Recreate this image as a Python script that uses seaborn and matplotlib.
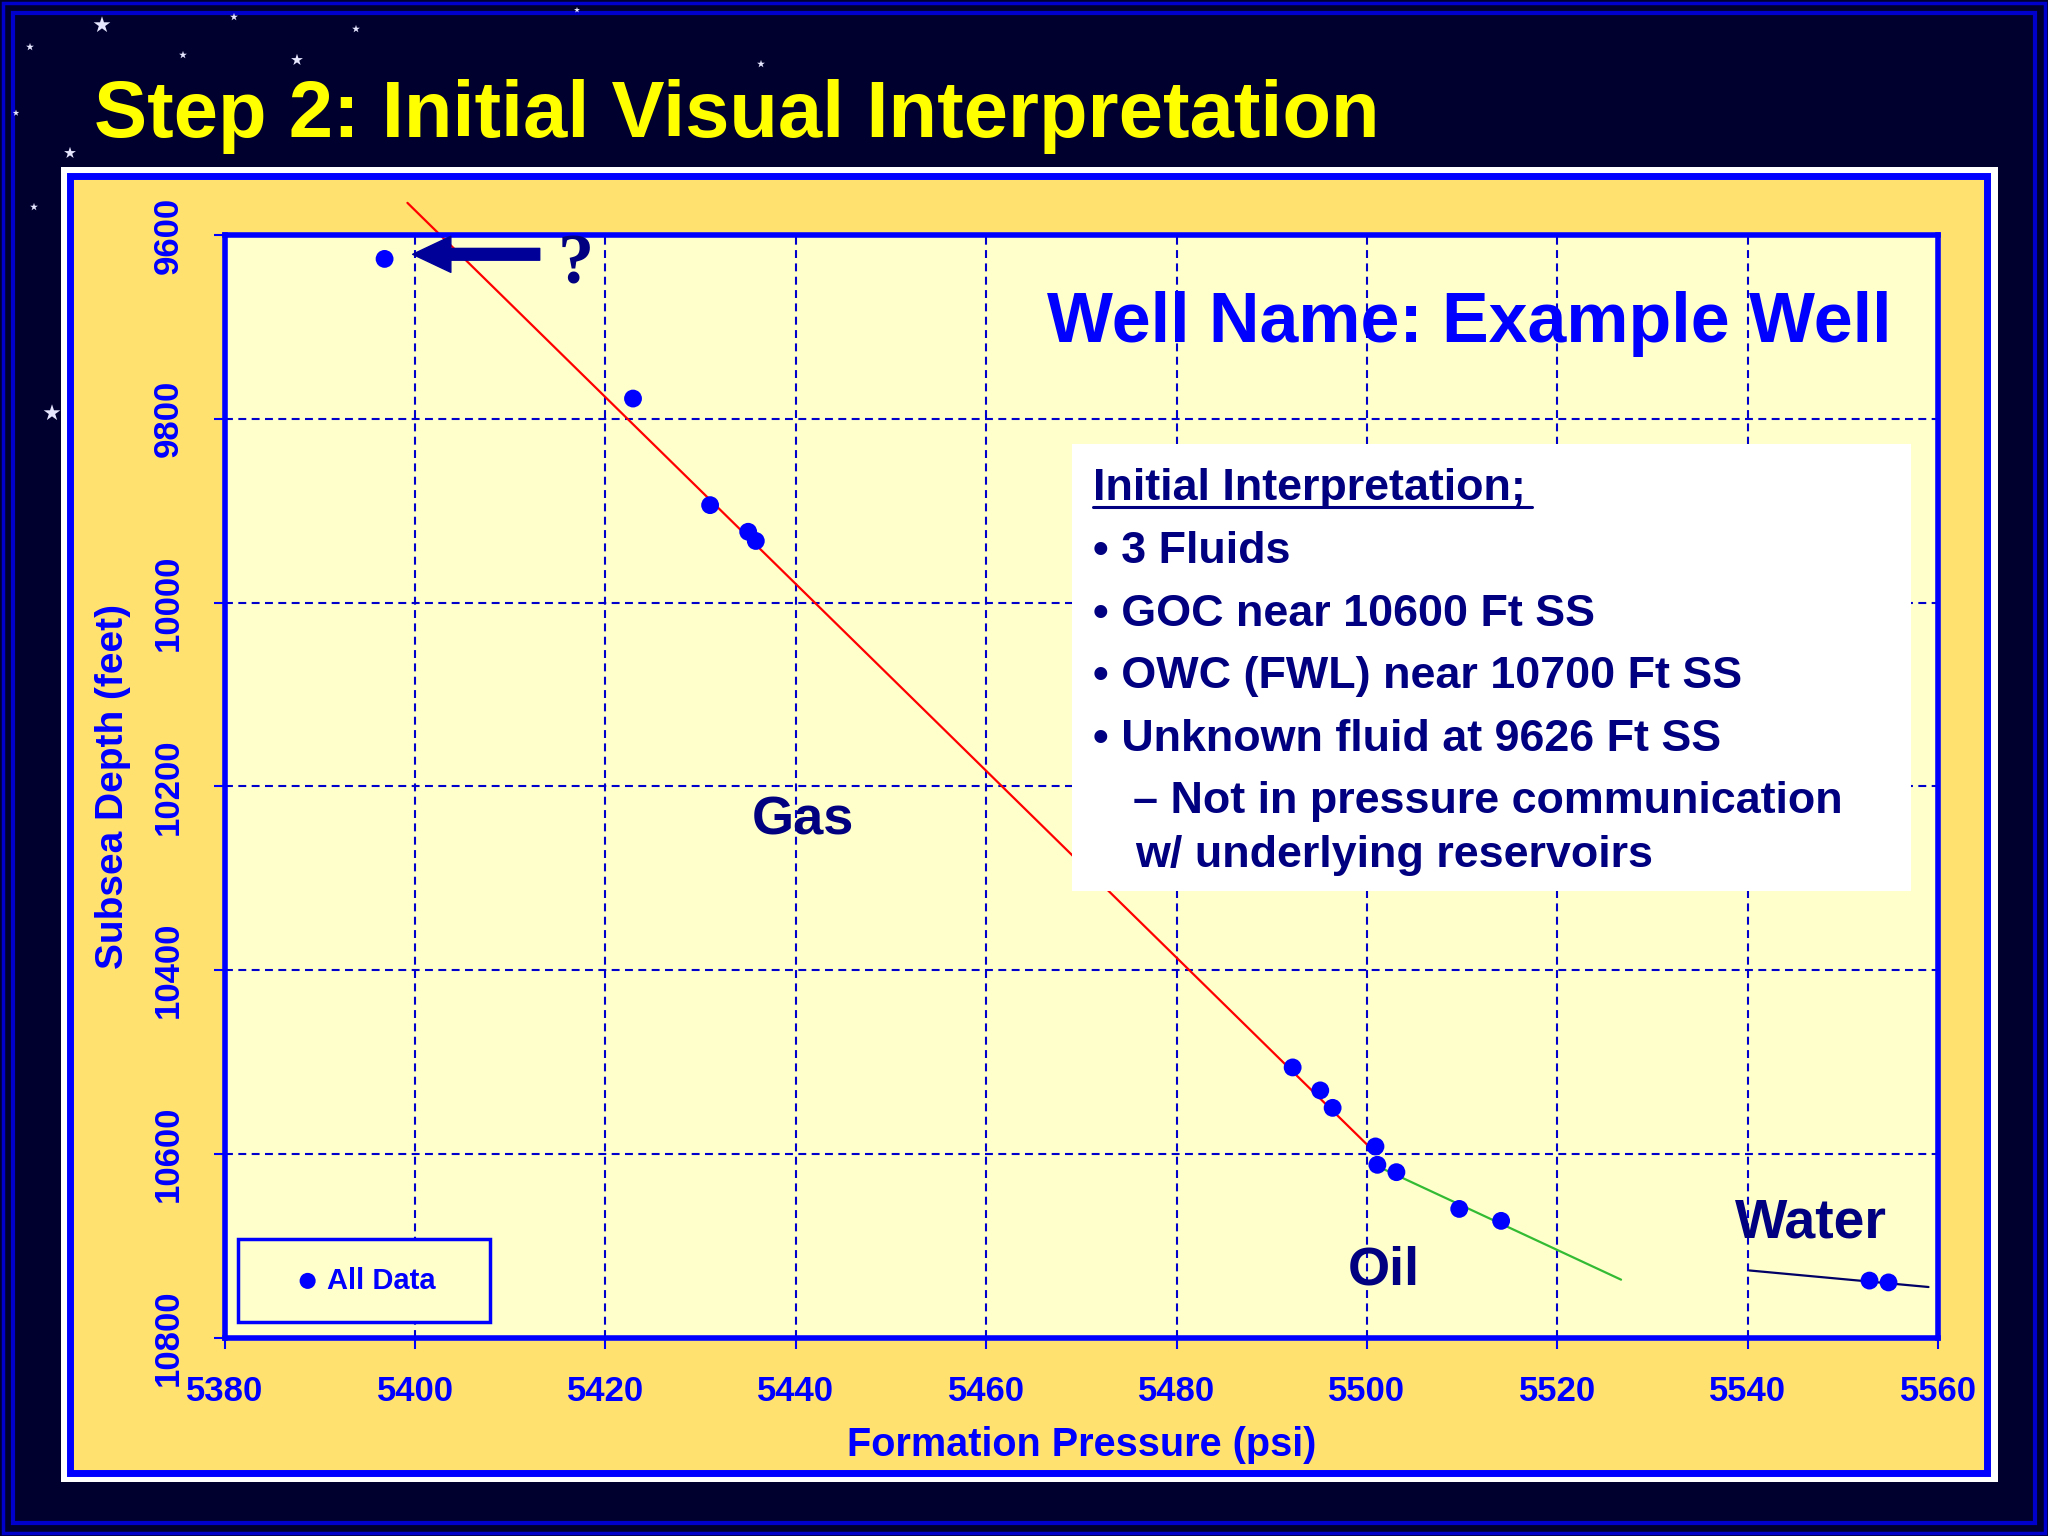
import numpy as np
import pandas as pd
import seaborn as sns
import matplotlib.pyplot as plt
from matplotlib.patches import Rectangle

# RFT pressure points
pressure = [5396.8, 5422.9, 5431.0, 5435.0, 5435.8, 5492.2, 5495.1, 5496.4,
            5500.9, 5501.1, 5503.1, 5509.7, 5514.1, 5552.8, 5554.8]
depth = [9626, 9778, 9894, 9923, 9933, 10506, 10531, 10550,
         10592, 10612, 10620, 10660, 10673, 10738, 10740]

# hand-drawn gradient lines (two end points each)
gas_p, gas_d = [5399.2, 5501.0], [9565, 10600]
oil_p, oil_d = [5501.4, 5526.7], [10615, 10737]
water_p, water_d = [5540.2, 5559.0], [10727, 10745]

x_ticks = list(range(5380, 5561, 20))
y_ticks = list(range(9600, 10801, 200))

notes = ["• 3 Fluids", "• GOC near 10600 Ft SS", "• OWC (FWL) near 10700 Ft SS",
         "• Unknown fluid at 9626 Ft SS"]
sub_notes = ["– Not in pressure communication", "w/ underlying reservoirs"]

# decorative stars on the slide background (pixel positions)
star_x = [102, 234, 30, 183, 297, 356, 761, 16, 70, 34, 52, 577]
star_y = [25, 17, 47, 55, 60, 29, 64, 113, 153, 207, 413, 10]
star_s = [160, 35, 35, 35, 80, 35, 35, 25, 80, 35, 160, 20]

df = pd.DataFrame({"pressure": pressure, "depth": depth})

sns.set_style("white")
plt.rcParams["font.family"] = ["Liberation Sans", "DejaVu Sans"]

navy_bg = "#00002E"
blue = "#0000FF"
navy = "#000080"

fig = plt.figure(figsize=(20.48, 15.36), dpi=100)
fig.patch.set_facecolor(navy_bg)

# background layer in pixel coordinates
bg = fig.add_axes([0, 0, 1, 1], zorder=0)
bg.set_xlim(0, 2048)
bg.set_ylim(1536, 0)
bg.axis("off")
bg.add_patch(Rectangle((0, 0), 2048, 1536, facecolor=navy_bg, edgecolor="none"))
bg.add_patch(Rectangle((3, 3), 2042, 1530, facecolor="none", edgecolor="#0000CC", lw=2.5))
bg.add_patch(Rectangle((13, 13), 2022, 1510, facecolor="none", edgecolor="#0000CC", lw=3))
bg.scatter(star_x, star_y, s=star_s, marker="*", color="#E6E6FF", linewidths=0)
bg.add_patch(Rectangle((61, 167), 1937, 1315, facecolor="white", edgecolor="none"))
bg.add_patch(Rectangle((70, 176), 1917, 1297, facecolor="#FFE170", edgecolor=blue, lw=5))
bg.text(94, 137, "Step 2: Initial Visual Interpretation", color="#FFFF00",
        fontsize=57.3, fontweight="bold", va="baseline", ha="left")

# main chart
ax = fig.add_axes([0.1097, 0.1292, 0.8366, 0.7178], zorder=1)
ax.set_facecolor("#FFFFCC")

sns.lineplot(x=gas_p, y=gas_d, ax=ax, color="#FF0000", lw=1.6, sort=False, estimator=None)
ax.lines[-1].set_clip_on(False)
sns.lineplot(x=oil_p, y=oil_d, ax=ax, color="#33BB33", lw=1.6, sort=False, estimator=None)
sns.lineplot(x=water_p, y=water_d, ax=ax, color="#000066", lw=1.6, sort=False, estimator=None)
sns.scatterplot(data=df, x="pressure", y="depth", ax=ax, color=blue, s=165,
                edgecolor="none", label="All Data", zorder=4)

ax.set_xlim(5380, 5560)
ax.set_ylim(10800, 9600)
ax.set_xticks(x_ticks)
ax.set_yticks(y_ticks)
ax.grid(True, color="#0000CC", linestyle=(0, (3.8, 2.6)), lw=1.5)
ax.set_axisbelow(True)
for sp in ax.spines.values():
    sp.set_color(blue)
    sp.set_linewidth(4)
ax.tick_params(axis="both", colors=blue, length=8, width=1.5, direction="out",
               labelsize=25, left=True, bottom=True)
ax.tick_params(axis="x", pad=19)
ax.tick_params(axis="y", pad=21)
for lab in ax.get_xticklabels():
    lab.set_fontweight("bold")
for lab in ax.get_yticklabels():
    lab.set_fontweight("bold")
    lab.set_rotation(90)
    lab.set_va("center")
ax.set_xlabel("Formation Pressure (psi)", color=blue, fontsize=28.5,
              fontweight="bold", labelpad=13)
ax.set_ylabel("Subsea Depth (feet)", color=blue, fontsize=28,
              fontweight="bold", labelpad=15)

# fluid labels
ax.text(5440.8, 10237, "Gas", color=navy, fontsize=39, fontweight="bold", ha="center", va="center")
ax.text(5501.8, 10727, "Oil", color=navy, fontsize=39, fontweight="bold", ha="center", va="center")
ax.text(5546.7, 10676, "Water", color=navy, fontsize=40, fontweight="bold", ha="center", va="center")

# arrow pointing at the odd point
ax.annotate("", xy=(5399.75, 9621), xytext=(5413.1, 9621), annotation_clip=False,
            arrowprops=dict(arrowstyle="simple,head_length=0.55,head_width=0.52,tail_width=0.17",
                            mutation_scale=50, color="#000099", shrinkA=0, shrinkB=0))

# legend box
ax.add_patch(Rectangle((0.0078, 0.014), 0.147, 0.0753, transform=ax.transAxes,
                       facecolor="#FFFFCC", edgecolor=blue, lw=2.5, zorder=5))
leg = ax.legend(loc="center", bbox_to_anchor=(0.0814, 0.0517), frameon=False,
                fontsize=21, handletextpad=0.15, handlelength=1.0, markerscale=0.9)
leg.set_zorder(6)
for t in leg.get_texts():
    t.set_color(blue)
    t.set_fontweight("bold")

# top layer: note box, title in plot, question mark
top = fig.add_axes([0, 0, 1, 1], zorder=2)
top.set_xlim(0, 2048)
top.set_ylim(1536, 0)
top.axis("off")
top.patch.set_visible(False)
top.text(1469, 342, "Well Name: Example Well", color=blue, fontsize=50.3,
         fontweight="bold", ha="center", va="baseline")
top.text(576, 266, "?", color=navy, fontsize=52, fontweight="bold",
         family=["Liberation Serif", "DejaVu Serif"], ha="center", va="center")
top.add_patch(Rectangle((1072, 444), 839, 447, facecolor="white", edgecolor="none"))
top.text(1093, 500, "Initial Interpretation;", color=navy, fontsize=32.3,
         fontweight="bold", va="baseline")
top.plot([1093, 1532], [507, 507], color=navy, lw=2.2)
for i, s in enumerate(notes):
    top.text(1093, 563 + 62.7 * i, s, color=navy, fontsize=32.3, fontweight="bold", va="baseline")
top.text(1133, 813, sub_notes[0], color=navy, fontsize=32.3, fontweight="bold", va="baseline")
top.text(1135, 867, sub_notes[1], color=navy, fontsize=32.3, fontweight="bold", va="baseline")

fig.savefig("out.png", dpi=100, facecolor=fig.get_facecolor())
